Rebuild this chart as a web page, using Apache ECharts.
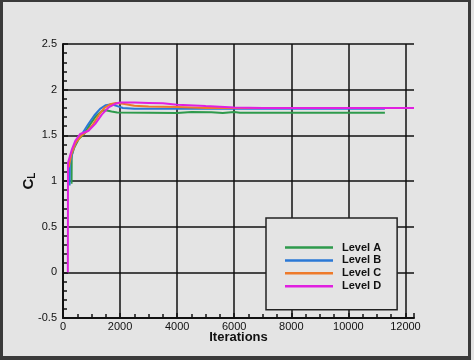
<!DOCTYPE html>
<html><head><meta charset="utf-8">
<script src="https://cdn.jsdelivr.net/npm/echarts@6/dist/echarts.min.js"></script>
<style>
html,body{margin:0;padding:0;background:#e4e4e4;}
#c{position:absolute;left:0;top:0;width:474px;height:360px;}
#f{position:absolute;left:0;top:0;width:471px;height:360px;box-sizing:border-box;border-left:3px solid #3a3a3a;border-top:2px solid #3a3a3a;border-right:3px solid #3a3a3a;border-bottom:4px solid #3a3a3a;pointer-events:none;}
</style></head>
<body><div id="c"></div><div id="f"></div>
<script>
const seriesNames = ['Level A', 'Level B', 'Level C', 'Level D'];
const xTicks = [0, 2000, 4000, 6000, 8000, 10000, 12000];
const yTicks = [-0.5, 0, 0.5, 1, 1.5, 2, 2.5];

const levelA = [[300,0.97],[305,1.28],[400,1.37],[550,1.46],[750,1.52],[950,1.62],[1150,1.71],[1350,1.765],[1500,1.775],[1700,1.76],[1900,1.75],[3000,1.748],[4000,1.745],[4500,1.755],[5200,1.752],[5600,1.745],[6000,1.755],[6200,1.748],[8000,1.748],[11280,1.748]];
const levelB = [[230,0.95],[240,1.18],[350,1.34],[500,1.45],[700,1.53],[900,1.63],[1100,1.72],[1300,1.79],[1500,1.83],[1700,1.84],[1900,1.82],[2100,1.80],[2500,1.79],[4000,1.79],[6000,1.79],[8000,1.79],[11280,1.79]];
const levelC = [[200,1.15],[300,1.3],[450,1.42],[650,1.5],[850,1.545],[1050,1.62],[1250,1.72],[1450,1.8],[1650,1.84],[1850,1.855],[2100,1.845],[2500,1.825],[3000,1.815],[4000,1.81],[5000,1.80],[8000,1.80],[11300,1.80]];
const levelD = [[170,0],[175,1.2],[315,1.35],[430,1.44],[605,1.515],[895,1.55],[1130,1.625],[1365,1.73],[1595,1.805],[1830,1.845],[2000,1.86],[2500,1.86],[3000,1.855],[3500,1.85],[4000,1.835],[5000,1.82],[6000,1.806],[7000,1.80],[12300,1.80]];

const colors = ['#2e9a4c', '#2a78d6', '#ee7a2a', '#e020e0'];
const dataSets = [levelA, levelB, levelC, levelD];

const chart = echarts.init(document.getElementById('c'));
const font = 'Liberation Sans, Arial, sans-serif';
chart.setOption({
  backgroundColor: '#e4e4e4',
  animation: false,
  grid: {left: 63, right: 60, top: 44, bottom: 42},
  legend: {
    orient: 'vertical', left: 266, top: 218,
    padding: [24, 16, 18, 19],
    backgroundColor: '#e4e4e4', borderColor: '#222', borderWidth: 1.5,
    icon: 'rect', itemWidth: 48, itemHeight: 2.5, itemGap: 1.9,
    textStyle: {fontFamily: font, fontWeight: 'bold', fontSize: 11, color: '#111', padding: [0,0,0,4]},
    data: seriesNames
  },
  xAxis: {
    type: 'value', min: 0, max: 12300, interval: 2000,
    name: 'Iterations', nameLocation: 'middle', nameGap: 19, nameMoveOverlap: false,
    nameTextStyle: {fontFamily: font, fontWeight: 'bold', fontSize: 13, color: '#111', verticalAlign: 'middle'},
    axisLine: {show: true, onZero: false, lineStyle: {color: '#111', width: 2}},
    axisTick: {show: true, inside: true, length: 5, lineStyle: {color: '#111', width: 1.5}},
    minorTick: {show: true, splitNumber: 4, length: 4, lineStyle: {color: '#111', width: 1.5}},
    axisLabel: {fontFamily: font, fontSize: 11, color: '#111', margin: 3, showMaxLabel: false,
      formatter: v => xTicks.includes(v) ? String(v) : ''},
    splitLine: {show: true, showMaxLine: false, lineStyle: {color: '#111', width: 1.5}}
  },
  yAxis: {
    type: 'value', min: -0.5, max: 2.5, interval: 0.5,
    name: '{c|C}{s|L}', nameLocation: 'middle', nameGap: 34, nameRotate: 90, nameMoveOverlap: false,
    nameTextStyle: {verticalAlign: 'middle', rich: {
      c: {fontFamily: font, fontWeight: 'bold', fontSize: 15, color: '#111'},
      s: {fontFamily: font, fontWeight: 'bold', fontSize: 10, color: '#111', padding: [7,0,0,0]}
    }},
    axisLine: {show: true, onZero: false, lineStyle: {color: '#111', width: 2}},
    axisTick: {show: true, inside: true, length: 5, lineStyle: {color: '#111', width: 1.5}},
    minorTick: {show: true, splitNumber: 5, length: 4, lineStyle: {color: '#111', width: 1.5}},
    axisLabel: {fontFamily: font, fontSize: 11, color: '#111', margin: 6,
      formatter: v => yTicks.includes(v) ? String(v) : ''},
    splitLine: {show: true, lineStyle: {color: '#111', width: 1.5}}
  },
  series: dataSets.map((d, i) => ({
    name: seriesNames[i], type: 'line', data: d, symbol: 'none',
    lineStyle: {color: colors[i], width: 2}, itemStyle: {color: colors[i]}, z: 3 + i
  }))
});
</script></body></html>
